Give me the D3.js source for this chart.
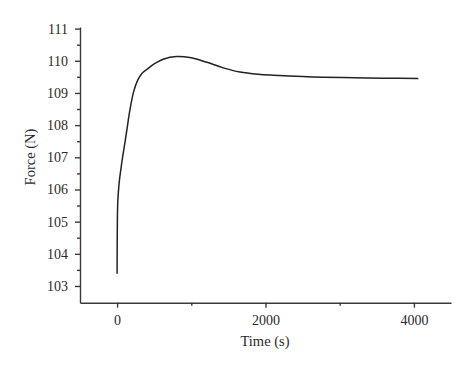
<!DOCTYPE html>
<html>
<head>
<meta charset="utf-8">
<script src="https://cdn.jsdelivr.net/npm/d3@7"></script>
<style>
  body { margin: 0; background: #fff; }
  svg text { font-family: "Liberation Serif", "DejaVu Serif", serif; fill: #2a2a2a; }
</style>
</head>
<body>
<div id="chartDiv"></div>
<script>
// force vs time
var timeS = [0, 1.5, 4, 9, 18, 32, 52, 75, 105, 135, 171, 224, 278, 332, 400, 466, 535, 623, 800, 980, 1200, 1430, 1655, 1900, 2105, 2500, 2780, 3200, 3600, 4060];
var forceN = [103.38, 104.4, 105.1, 105.6, 105.95, 106.3, 106.65, 107.02, 107.45, 107.9, 108.45, 109.05, 109.4, 109.6, 109.73, 109.85, 109.95, 110.05, 110.13, 110.1, 109.96, 109.78, 109.65, 109.58, 109.55, 109.51, 109.49, 109.47, 109.46, 109.45];
var xTicks = [0, 2000, 4000];
var xMinor = [1000, 3000];
var yTicks = [103, 104, 105, 106, 107, 108, 109, 110, 111];
var yMinor = [103.5, 104.5, 105.5, 106.5, 107.5, 108.5, 109.5, 110.5];

var chartWidth = 474;
var chartHeight = 372;

var svg = d3.select('#chartDiv')
            .append('svg')
            .attr('width', chartWidth)
            .attr('height', chartHeight);

var x = d3.scaleLinear().domain([-500, 4500]).range([80, 451]);
var y = d3.scaleLinear().domain([102.48, 111.05]).range([302.7, 27]);

var axisColor = '#3a3a3a';

// minor ticks first, majors drawn on top
svg.append('g')
   .attr('transform', 'translate(0,302.7)')
   .call(d3.axisBottom(x).tickValues(xMinor).tickSize(3).tickFormat(''))
   .call(function(g) { g.select('.domain').remove(); });
svg.append('g')
   .attr('transform', 'translate(80,0)')
   .call(d3.axisLeft(y).tickValues(yMinor).tickSize(3).tickFormat(''))
   .call(function(g) { g.select('.domain').remove(); });

svg.append('g')
   .attr('transform', 'translate(0,302.7)')
   .call(d3.axisBottom(x).tickValues(xTicks).tickSize(5).tickSizeOuter(0).tickPadding(7).tickFormat(d3.format('d')));
svg.append('g')
   .attr('transform', 'translate(80,0)')
   .call(d3.axisLeft(y).tickValues(yTicks).tickSize(5).tickSizeOuter(0).tickPadding(7).tickFormat(d3.format('d')));

svg.selectAll('.domain, .tick line')
   .attr('stroke', axisColor)
   .attr('stroke-width', 1.4);
svg.selectAll('.tick text')
   .style('font-size', '14px')
   .style('font-family', '"Liberation Serif", "DejaVu Serif", serif')
   .style('fill', '#2a2a2a');

// curve
var line = d3.line()
   .x(function(d, i) { return x(timeS[i]); })
   .y(function(d) { return y(d); })
   .curve(d3.curveCatmullRom.alpha(0.5));

svg.append('path')
   .datum(forceN)
   .attr('d', line)
   .attr('fill', 'none')
   .attr('stroke', '#222')
   .attr('stroke-width', 1.5);

// axis titles
svg.append('text')
   .attr('x', 265)
   .attr('y', 346)
   .attr('text-anchor', 'middle')
   .style('font-size', '14.5px')
   .text('Time (s)');

svg.append('text')
   .attr('transform', 'translate(35,157) rotate(-90)')
   .attr('text-anchor', 'middle')
   .style('font-size', '14.5px')
   .text('Force (N)');
</script>
</body>
</html>
